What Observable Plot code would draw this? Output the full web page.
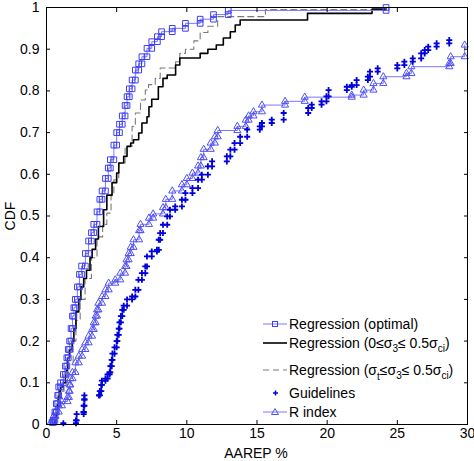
<!DOCTYPE html>
<html><head><meta charset="utf-8">
<script src="https://cdn.jsdelivr.net/npm/d3@7"></script>
<script src="https://cdn.jsdelivr.net/npm/@observablehq/plot@0.6"></script>
<style>
body{margin:0;background:#fff;}
#chart{position:relative;width:474px;height:461px;overflow:hidden;}
</style>
</head><body><div id="chart"></div>
<script>
// Regression (optimal)
const optX = [0.4,0.5,0.6,0.7,0.8,0.87,1.0,1.2,1.35,1.45,1.55,1.65,1.75,1.85,1.95,2.05,2.2,2.35,2.5,2.77,3.0,3.2,3.37,3.6,3.8,3.96,4.2,4.4,4.55,4.8,5.0,5.2,5.4,5.6,5.74,5.9,6.1,6.33,6.57,6.8,7.16,7.5,7.9,8.2,8.96,9.9,10.95,11.9,12.95,24.2];
const optY = [0.005,0.01,0.03,0.05,0.07,0.09,0.1,0.12,0.14,0.16,0.18,0.2,0.23,0.26,0.28,0.3,0.33,0.36,0.38,0.41,0.44,0.46,0.48,0.51,0.54,0.56,0.59,0.615,0.635,0.67,0.7,0.72,0.74,0.765,0.786,0.805,0.826,0.85,0.865,0.882,0.902,0.918,0.93,0.942,0.95,0.962,0.972,0.983,0.993,1.0];
// Regression (0<=s3<=0.5sci)
const blackX = [0.5,0.6,0.7,0.8,0.87,1.0,1.2,1.35,1.5,1.65,1.83,1.95,2.1,2.3,2.45,2.65,2.85,3.1,3.25,3.5,3.7,4.07,4.3,4.67,5.0,5.15,5.5,5.74,6.0,6.2,6.57,6.8,7.16,7.3,7.5,7.97,8.3,8.6,9.2,9.5,10.95,11.5,12.1,12.6,13.1,13.45,13.8,18.6,23.2,24.2];
const blackY = [0.005,0.02,0.04,0.06,0.08,0.09,0.1,0.13,0.16,0.18,0.2,0.23,0.27,0.3,0.33,0.35,0.37,0.4,0.42,0.445,0.475,0.515,0.55,0.58,0.603,0.627,0.643,0.667,0.675,0.683,0.699,0.723,0.738,0.762,0.78,0.81,0.83,0.838,0.862,0.879,0.89,0.9,0.91,0.927,0.942,0.958,0.97,0.986,0.996,1.0];
// Regression (st<=s3<=0.5sci)
const dashX = [0.5,0.65,0.8,0.95,1.25,1.5,1.9,2.1,2.4,2.75,3.2,3.6,4.0,4.3,4.6,4.8,5.15,5.6,6.1,6.33,6.7,7.04,7.27,7.75,8.1,9.2,9.5,9.9,10.5,10.95,11.5,12.2,15.6,24.2];
const dashY = [0.005,0.02,0.05,0.08,0.1,0.15,0.2,0.25,0.3,0.35,0.4,0.45,0.48,0.507,0.55,0.587,0.627,0.667,0.715,0.747,0.778,0.802,0.815,0.83,0.855,0.87,0.89,0.9,0.92,0.94,0.955,0.978,0.995,1.0];
// Guidelines
const gX = [1.2,2.1,2.15,2.65,2.65,2.7,2.7,3.75,3.8,3.9,3.95,4.2,4.35,4.5,4.55,4.65,4.7,4.85,5.0,5.05,5.15,5.2,5.3,5.4,5.5,5.74,6.1,6.33,6.55,6.8,7.04,7.16,7.5,7.87,8.0,8.1,8.3,8.6,8.8,9.17,9.65,9.9,10.4,10.8,11.07,11.5,11.8,12.85,13.1,13.4,13.8,14.3,15.2,15.35,16.05,16.9,18.65,18.9,19.6,19.95,20.1,21.4,21.75,22.1,22.9,23.05,23.6,25.0,25.5,26.1,26.7,26.95,27.2,27.8,28.7];
const gY = [0.003,0.01,0.025,0.03,0.045,0.06,0.07,0.07,0.08,0.095,0.105,0.11,0.12,0.125,0.14,0.155,0.17,0.185,0.2,0.215,0.23,0.245,0.26,0.275,0.285,0.3,0.307,0.323,0.347,0.363,0.379,0.403,0.415,0.419,0.443,0.459,0.479,0.499,0.515,0.523,0.539,0.555,0.567,0.587,0.599,0.619,0.631,0.643,0.659,0.675,0.69,0.707,0.715,0.723,0.731,0.747,0.759,0.767,0.775,0.787,0.802,0.81,0.814,0.826,0.834,0.846,0.854,0.862,0.87,0.878,0.89,0.898,0.906,0.914,0.922];
// R index
const rX = [0.3,0.5,0.64,0.87,1.1,1.5,1.6,1.65,1.7,1.85,2.06,2.3,2.54,2.77,3.0,3.25,3.37,3.5,3.6,3.7,3.96,4.2,4.43,4.9,5.26,5.6,5.7,5.85,6.0,6.2,6.6,6.7,7.3,7.6,8.3,8.5,8.96,9.65,10.0,10.4,10.8,11.0,11.2,11.7,12.0,12.2,13.6,14.2,14.4,14.75,15.35,17.0,18.4,21.75,22.6,23.3,24.0,25.65,26.0,28.7,28.8,29.8];
const rY = [0.005,0.02,0.03,0.045,0.055,0.065,0.08,0.095,0.11,0.125,0.148,0.164,0.18,0.196,0.212,0.228,0.244,0.26,0.275,0.291,0.307,0.323,0.339,0.347,0.363,0.379,0.395,0.41,0.425,0.443,0.465,0.48,0.495,0.505,0.52,0.54,0.56,0.575,0.59,0.603,0.62,0.64,0.66,0.675,0.69,0.705,0.715,0.73,0.74,0.75,0.766,0.775,0.785,0.79,0.802,0.818,0.834,0.842,0.858,0.866,0.882,0.91];

const xTicks = [0,5,10,15,20,25,30];
const xTickLabels = ["0","5","10","15","20","25","30"];
const yTicks = [0,0.1,0.2,0.3,0.4,0.5,0.6,0.7,0.8,0.9,1];
const yTickLabels = ["0","0.1","0.2","0.3","0.4","0.5","0.6","0.7","0.8","0.9","1"];

const toPts = (xs, ys) => xs.map((x, i) => ({x, y: ys[i]}));
// stairs vertices (both corners of each riser), as drawn by MATLAB stairs with markers
const stairVerts = (xs, ys) => {
  const out = [];
  xs.forEach((x, i) => { if (i > 0) out.push({x, y: ys[i - 1]}); out.push({x, y: ys[i]}); });
  return out;
};

const opt = toPts(optX, optY), blk = toPts(blackX, blackY), dsh = toPts(dashX, dashY);
const gd = toPts(gX, gY), ri = toPts(rX, rY);

const cSq = "#3f3ff5", cLine = "#7878ff", cPlus = "#0000dd", cTri = "#5050f0";

const plot = Plot.plot({
  width: 474, height: 461,
  marginLeft: 46, marginRight: 7, marginTop: 7, marginBottom: 37,
  style: {fontFamily: "'Liberation Sans', Arial, sans-serif", fontSize: "14px", color: "black", background: "white", overflow: "visible"},
  x: {domain: [0, 30]},
  y: {domain: [0, 1]},
  marks: [
    Plot.line(dsh, {x: "x", y: "y", curve: "step-after", stroke: "#7a7a7a", strokeWidth: 1.1, strokeDasharray: "6,4"}),
    Plot.line(blk, {x: "x", y: "y", curve: "step-after", stroke: "black", strokeWidth: 1.6}),
    Plot.line(ri, {x: "x", y: "y", curve: "step-after", stroke: cLine, strokeWidth: 1}),
    Plot.dot(stairVerts(rX, rY), {x: "x", y: "y", symbol: "triangle2", r: 3.4, stroke: cTri, strokeWidth: 1, fill: "none"}),
    Plot.line(opt, {x: "x", y: "y", curve: "step-after", stroke: cLine, strokeWidth: 1}),
    Plot.dot(stairVerts(optX, optY), {x: "x", y: "y", symbol: "square2", r: 3.6, stroke: cSq, strokeWidth: 1, fill: "none"}),
    Plot.dot(stairVerts(gX, gY), {x: "x", y: "y", symbol: "plus", r: 2.1, stroke: cPlus, strokeWidth: 1.8}),
    Plot.axisX({anchor: "bottom", ticks: xTicks, tickSize: -4, tickPadding: 8, tickFormat: d => xTickLabels[xTicks.indexOf(d)], label: null}),
    Plot.axisX({anchor: "top", ticks: xTicks, tickSize: -4, tickFormat: () => "", label: null}),
    Plot.axisY({anchor: "left", ticks: yTicks, tickSize: -4, tickPadding: 11, tickFormat: d => yTickLabels[yTicks.indexOf(d)], label: null}),
    Plot.axisY({anchor: "right", ticks: yTicks, tickSize: -4, tickFormat: () => "", label: null}),
    Plot.frame({stroke: "black", strokeWidth: 1})
  ]
});

document.getElementById("chart").appendChild(plot);

// axis titles and legend
const svg = d3.select(plot);
svg.append("text").attr("transform", "translate(15,216) rotate(-90)")
  .attr("text-anchor", "middle").attr("font-size", 14).attr("fill", "black").text("CDF");
svg.append("text").attr("x", 256).attr("y", 458)
  .attr("text-anchor", "middle").attr("font-size", 14).attr("fill", "black").text("AAREP %");

const lg = svg.append("g").attr("font-size", 14).attr("fill", "black").attr("text-anchor", "start");
function subText(y, segs) {
  const t = lg.append("text").attr("x", 289).attr("y", y + 5).attr("text-anchor", "start");
  let shift = 0;
  segs.forEach(s => {
    if (typeof s === "string") {
      t.append("tspan").attr("dy", -shift).text(s); shift = 0;
    } else {
      t.append("tspan").attr("dy", s.dy - shift).attr("font-size", 10).text(s.sub); shift = s.dy;
    }
  });
}
// item 1
lg.append("line").attr("x1", 263).attr("x2", 287).attr("y1", 324).attr("y2", 324).attr("stroke", cLine);
lg.append("rect").attr("x", 272.5).attr("y", 321.5).attr("width", 5).attr("height", 5).attr("fill", "none").attr("stroke", cSq);
subText(324, ["Regression (optimal)"]);
// item 2
lg.append("line").attr("x1", 263).attr("x2", 287).attr("y1", 343).attr("y2", 343).attr("stroke", "black").attr("stroke-width", 1.6);
subText(343, ["Regression (0≤σ", {sub: "3", dy: 4}, "≤ 0.5σ", {sub: "ci", dy: 4}, ")"]);
// item 3
lg.append("line").attr("x1", 263).attr("x2", 287).attr("y1", 370).attr("y2", 370).attr("stroke", "#7a7a7a").attr("stroke-dasharray", "6,4").attr("stroke-width", 1.1);
subText(370, ["Regression (σ", {sub: "t", dy: 5}, "≤σ", {sub: "3", dy: 4}, "≤ 0.5σ", {sub: "ci", dy: 4}, ")"]);
// item 4
lg.append("path").attr("d", "M273,393h5M275.5,390.5v5").attr("stroke", cPlus).attr("stroke-width", 1.5);
subText(393, ["Guidelines"]);
// item 5
lg.append("line").attr("x1", 263).attr("x2", 287).attr("y1", 412).attr("y2", 412).attr("stroke", cLine);
lg.append("path").attr("d", "M275,408.5L278.5,414.5L271.5,414.5Z").attr("fill", "none").attr("stroke", cTri);
subText(412, ["R index"]);
</script>
</body></html>
